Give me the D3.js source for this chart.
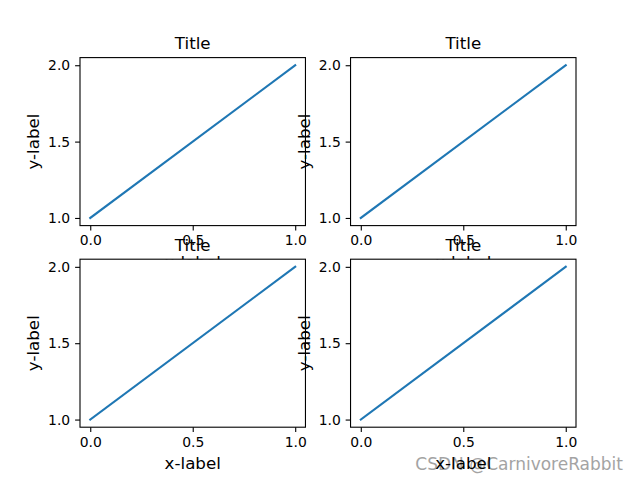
<!DOCTYPE html>
<meta charset="utf-8">
<head>
<title>2x2 subplots</title>
<style>
body { margin: 0; background: #fff; }
svg text { font-family: "DejaVu Sans", sans-serif; fill: #000; }
.tick text { font-size: 13.9px; }
.domain, .tick line { stroke: #000; stroke-width: 1.1px; }
.line { fill: none; stroke: #1f77b4; stroke-width: 2.1px; stroke-linecap: square; }
.title, .label { font-size: 16.7px; }
.mark { font-size: 17px; fill: #9a9a9a; opacity: 0.9; }
</style>
</head>
<body>
<script src="https://d3js.org/d3.v7.min.js"></script>
<script>

// data for each panel (all four are the same)
var xVals = [0, 1],
    yVals = [1, 2],
    xTicks = [0, 0.5, 1],
    yTicks = [1, 1.5, 2],
    panels = ["Title", "Title", "Title", "Title"];

var width = 640,
    height = 480,
    figLeft = 80, figRight = 576,
    figTop = 57.6, figBottom = 427.2,
    w = (figRight - figLeft) / 2.2,
    h = (figBottom - figTop) / 2.2,
    fmt = d3.format(".1f");

var svg = d3.select("body").append("svg")
    .attr("width", width)
    .attr("height", height);

// watermark sits under the chart
svg.append("text")
    .attr("class", "mark")
    .attr("x", 623)
    .attr("y", 470)
    .attr("text-anchor", "end")
    .text("CSDN @CarnivoreRabbit");

panels.forEach(function(title, i) {
  var col = i % 2, row = Math.floor(i / 2);
  var x0 = figLeft + col * w * 1.2,
      y0 = figTop + row * h * 1.2;

  var x = d3.scaleLinear().domain([-0.05, 1.05]).range([0, w]),
      y = d3.scaleLinear().domain([0.95, 2.05]).range([h, 0]);

  var g = svg.append("g")
      .attr("transform", "translate(" + x0 + "," + y0 + ")");

  // white face of the axes covers what was drawn before it
  g.append("rect")
      .attr("width", w)
      .attr("height", h)
      .attr("fill", "#fff");

  g.append("path")
      .datum(d3.range(xVals.length))
      .attr("class", "line")
      .attr("d", d3.line()
          .x(function(j) { return x(xVals[j]); })
          .y(function(j) { return y(yVals[j]); }));

  g.append("g")
      .attr("transform", "translate(0," + h + ")")
      .call(d3.axisBottom(x).tickValues(xTicks).tickFormat(fmt)
          .tickSize(4.9).tickSizeOuter(0).tickPadding(4.9));

  g.append("g")
      .call(d3.axisLeft(y).tickValues(yTicks).tickFormat(fmt)
          .tickSize(4.9).tickSizeOuter(0).tickPadding(4.9));

  g.selectAll(".domain").remove();
  g.append("rect")
      .attr("width", w)
      .attr("height", h)
      .attr("fill", "none")
      .attr("stroke", "#000")
      .attr("stroke-width", 1.1);

  g.selectAll(".tick text").attr("fill", "#000");

  g.append("text")
      .attr("class", "title")
      .attr("x", w / 2)
      .attr("y", -8.3)
      .attr("text-anchor", "middle")
      .text(title);

  g.append("text")
      .attr("class", "label")
      .attr("x", w / 2)
      .attr("y", h + 42)
      .attr("text-anchor", "middle")
      .text("x-label");

  g.append("text")
      .attr("class", "label")
      .attr("transform", "translate(-41," + (h / 2) + ") rotate(-90)")
      .attr("text-anchor", "middle")
      .text("y-label");
});

</script>
</body>
